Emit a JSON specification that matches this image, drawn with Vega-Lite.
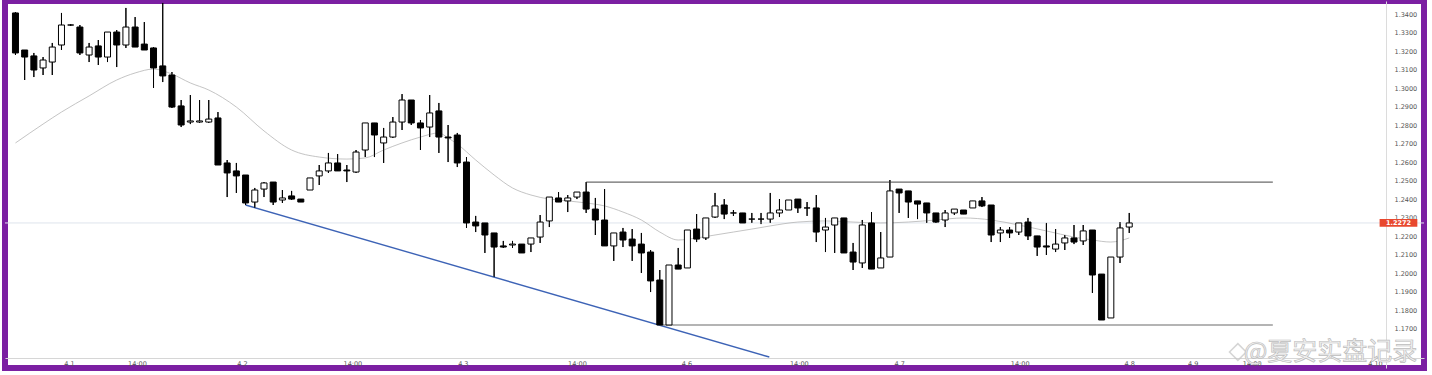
{
"$schema": "https://vega.github.io/schema/vega-lite/v6.json",
"width": 1419, "height": 367, "autosize": "none",
"padding": {"left": 5, "top": 1, "right": 8, "bottom": 7},
"background": "#ffffff",
"config": {"view": {"stroke": "#7b1fa2", "strokeWidth": 6}, "font": "DejaVu Sans", "axis": {"labelOverlap": false}},
"datasets": {
"candles": [
{"i":0,"o":1.3406,"h":1.3411,"l":1.3179,"c":1.3190},
{"i":1,"o":1.3206,"h":1.3206,"l":1.3044,"c":1.3168},
{"i":2,"o":1.3174,"h":1.3190,"l":1.3060,"c":1.3098},
{"i":3,"o":1.3109,"h":1.3168,"l":1.3071,"c":1.3152},
{"i":4,"o":1.3141,"h":1.3244,"l":1.3071,"c":1.3222},
{"i":5,"o":1.3233,"h":1.3406,"l":1.3206,"c":1.3341},
{"i":6,"o":1.3341,"h":1.3346,"l":1.3336,"c":1.3341},
{"i":7,"o":1.3330,"h":1.3341,"l":1.3179,"c":1.3190},
{"i":8,"o":1.3179,"h":1.3244,"l":1.3141,"c":1.3222},
{"i":9,"o":1.3228,"h":1.3260,"l":1.3125,"c":1.3168},
{"i":10,"o":1.3168,"h":1.3303,"l":1.3141,"c":1.3303},
{"i":11,"o":1.3303,"h":1.3314,"l":1.3114,"c":1.3233},
{"i":12,"o":1.3233,"h":1.3433,"l":1.3217,"c":1.3330},
{"i":13,"o":1.3330,"h":1.3384,"l":1.3222,"c":1.3222},
{"i":14,"o":1.3238,"h":1.3357,"l":1.3206,"c":1.3206},
{"i":15,"o":1.3217,"h":1.3222,"l":1.3001,"c":1.3109},
{"i":16,"o":1.3120,"h":1.3460,"l":1.3033,"c":1.3066},
{"i":17,"o":1.3071,"h":1.3087,"l":1.2893,"c":1.2898},
{"i":18,"o":1.2904,"h":1.2936,"l":1.2790,"c":1.2801},
{"i":19,"o":1.2817,"h":1.2963,"l":1.2806,"c":1.2823},
{"i":20,"o":1.2817,"h":1.2936,"l":1.2812,"c":1.2823},
{"i":21,"o":1.2817,"h":1.2936,"l":1.2812,"c":1.2833},
{"i":22,"o":1.2839,"h":1.2871,"l":1.2585,"c":1.2585},
{"i":23,"o":1.2596,"h":1.2612,"l":1.2412,"c":1.2542},
{"i":24,"o":1.2553,"h":1.2596,"l":1.2434,"c":1.2526},
{"i":25,"o":1.2531,"h":1.2531,"l":1.2369,"c":1.2380},
{"i":26,"o":1.2385,"h":1.2461,"l":1.2353,"c":1.2450},
{"i":27,"o":1.2455,"h":1.2493,"l":1.2412,"c":1.2488},
{"i":28,"o":1.2493,"h":1.2493,"l":1.2369,"c":1.2385},
{"i":29,"o":1.2396,"h":1.2450,"l":1.2380,"c":1.2407},
{"i":30,"o":1.2418,"h":1.2445,"l":1.2396,"c":1.2401},
{"i":31,"o":1.2401,"h":1.2401,"l":1.2385,"c":1.2385},
{"i":32,"o":1.2450,"h":1.2515,"l":1.2450,"c":1.2515},
{"i":33,"o":1.2526,"h":1.2585,"l":1.2477,"c":1.2553},
{"i":34,"o":1.2553,"h":1.2650,"l":1.2542,"c":1.2596},
{"i":35,"o":1.2596,"h":1.2644,"l":1.2553,"c":1.2553},
{"i":36,"o":1.2558,"h":1.2585,"l":1.2493,"c":1.2553},
{"i":37,"o":1.2547,"h":1.2666,"l":1.2542,"c":1.2655},
{"i":38,"o":1.2666,"h":1.2812,"l":1.2628,"c":1.2812},
{"i":39,"o":1.2812,"h":1.2812,"l":1.2628,"c":1.2747},
{"i":40,"o":1.2704,"h":1.2785,"l":1.2596,"c":1.2736},
{"i":41,"o":1.2736,"h":1.2844,"l":1.2731,"c":1.2817},
{"i":42,"o":1.2817,"h":1.2968,"l":1.2774,"c":1.2936},
{"i":43,"o":1.2936,"h":1.2936,"l":1.2801,"c":1.2812},
{"i":44,"o":1.2812,"h":1.2828,"l":1.2666,"c":1.2785},
{"i":45,"o":1.2790,"h":1.2963,"l":1.2736,"c":1.2866},
{"i":46,"o":1.2877,"h":1.2920,"l":1.2650,"c":1.2736},
{"i":47,"o":1.2736,"h":1.2801,"l":1.2601,"c":1.2731},
{"i":48,"o":1.2747,"h":1.2758,"l":1.2574,"c":1.2596},
{"i":49,"o":1.2601,"h":1.2628,"l":1.2245,"c":1.2272},
{"i":50,"o":1.2277,"h":1.2310,"l":1.2223,"c":1.2256},
{"i":51,"o":1.2272,"h":1.2272,"l":1.2110,"c":1.2207},
{"i":52,"o":1.2218,"h":1.2218,"l":1.1980,"c":1.2142},
{"i":53,"o":1.2148,"h":1.2175,"l":1.2137,"c":1.2142},
{"i":54,"o":1.2153,"h":1.2175,"l":1.2137,"c":1.2158},
{"i":55,"o":1.2158,"h":1.2158,"l":1.2110,"c":1.2110},
{"i":56,"o":1.2158,"h":1.2191,"l":1.2115,"c":1.2191},
{"i":57,"o":1.2196,"h":1.2315,"l":1.2164,"c":1.2277},
{"i":58,"o":1.2283,"h":1.2412,"l":1.2250,"c":1.2412},
{"i":59,"o":1.2407,"h":1.2439,"l":1.2385,"c":1.2385},
{"i":60,"o":1.2391,"h":1.2423,"l":1.2331,"c":1.2407},
{"i":61,"o":1.2412,"h":1.2439,"l":1.2401,"c":1.2439},
{"i":62,"o":1.2439,"h":1.2493,"l":1.2326,"c":1.2347},
{"i":63,"o":1.2347,"h":1.2407,"l":1.2207,"c":1.2288},
{"i":64,"o":1.2288,"h":1.2455,"l":1.2148,"c":1.2148},
{"i":65,"o":1.2148,"h":1.2218,"l":1.2067,"c":1.2218},
{"i":66,"o":1.2223,"h":1.2245,"l":1.2142,"c":1.2180},
{"i":67,"o":1.2185,"h":1.2239,"l":1.2067,"c":1.2148},
{"i":68,"o":1.2158,"h":1.2218,"l":1.2002,"c":1.2110},
{"i":69,"o":1.2115,"h":1.2126,"l":1.1899,"c":1.1959},
{"i":70,"o":1.1964,"h":1.2018,"l":1.1721,"c":1.1721},
{"i":71,"o":1.1721,"h":1.2045,"l":1.1721,"c":1.2045},
{"i":72,"o":1.2045,"h":1.2137,"l":1.2023,"c":1.2023},
{"i":73,"o":1.2029,"h":1.2234,"l":1.2029,"c":1.2234},
{"i":74,"o":1.2239,"h":1.2320,"l":1.2169,"c":1.2185},
{"i":75,"o":1.2191,"h":1.2299,"l":1.2180,"c":1.2299},
{"i":76,"o":1.2304,"h":1.2434,"l":1.2299,"c":1.2364},
{"i":77,"o":1.2369,"h":1.2401,"l":1.2293,"c":1.2320},
{"i":78,"o":1.2326,"h":1.2342,"l":1.2310,"c":1.2326},
{"i":79,"o":1.2326,"h":1.2326,"l":1.2272,"c":1.2272},
{"i":80,"o":1.2293,"h":1.2326,"l":1.2272,"c":1.2293},
{"i":81,"o":1.2293,"h":1.2326,"l":1.2266,"c":1.2293},
{"i":82,"o":1.2293,"h":1.2434,"l":1.2272,"c":1.2326},
{"i":83,"o":1.2326,"h":1.2401,"l":1.2304,"c":1.2342},
{"i":84,"o":1.2342,"h":1.2396,"l":1.2342,"c":1.2396},
{"i":85,"o":1.2401,"h":1.2401,"l":1.2326,"c":1.2353},
{"i":86,"o":1.2353,"h":1.2385,"l":1.2310,"c":1.2353},
{"i":87,"o":1.2353,"h":1.2423,"l":1.2169,"c":1.2223},
{"i":88,"o":1.2234,"h":1.2299,"l":1.2115,"c":1.2250},
{"i":89,"o":1.2261,"h":1.2299,"l":1.2110,"c":1.2299},
{"i":90,"o":1.2299,"h":1.2299,"l":1.2110,"c":1.2110},
{"i":91,"o":1.2115,"h":1.2164,"l":1.2018,"c":1.2061},
{"i":92,"o":1.2056,"h":1.2288,"l":1.2029,"c":1.2261},
{"i":93,"o":1.2272,"h":1.2331,"l":1.2023,"c":1.2023},
{"i":94,"o":1.2029,"h":1.2223,"l":1.2029,"c":1.2083},
{"i":95,"o":1.2088,"h":1.2504,"l":1.2088,"c":1.2445},
{"i":96,"o":1.2455,"h":1.2455,"l":1.2326,"c":1.2434},
{"i":97,"o":1.2445,"h":1.2445,"l":1.2299,"c":1.2385},
{"i":98,"o":1.2391,"h":1.2391,"l":1.2293,"c":1.2374},
{"i":99,"o":1.2380,"h":1.2380,"l":1.2272,"c":1.2326},
{"i":100,"o":1.2326,"h":1.2326,"l":1.2272,"c":1.2277},
{"i":101,"o":1.2288,"h":1.2342,"l":1.2250,"c":1.2326},
{"i":102,"o":1.2326,"h":1.2347,"l":1.2315,"c":1.2347},
{"i":103,"o":1.2342,"h":1.2342,"l":1.2320,"c":1.2320},
{"i":104,"o":1.2353,"h":1.2391,"l":1.2353,"c":1.2391},
{"i":105,"o":1.2391,"h":1.2412,"l":1.2358,"c":1.2364},
{"i":106,"o":1.2369,"h":1.2369,"l":1.2169,"c":1.2207},
{"i":107,"o":1.2218,"h":1.2250,"l":1.2169,"c":1.2234},
{"i":108,"o":1.2234,"h":1.2250,"l":1.2191,"c":1.2218},
{"i":109,"o":1.2223,"h":1.2272,"l":1.2207,"c":1.2272},
{"i":110,"o":1.2277,"h":1.2299,"l":1.2180,"c":1.2202},
{"i":111,"o":1.2202,"h":1.2202,"l":1.2094,"c":1.2142},
{"i":112,"o":1.2148,"h":1.2272,"l":1.2099,"c":1.2142},
{"i":113,"o":1.2131,"h":1.2239,"l":1.2115,"c":1.2158},
{"i":114,"o":1.2164,"h":1.2207,"l":1.2126,"c":1.2191},
{"i":115,"o":1.2191,"h":1.2261,"l":1.2158,"c":1.2169},
{"i":116,"o":1.2175,"h":1.2261,"l":1.2153,"c":1.2229},
{"i":117,"o":1.2234,"h":1.2234,"l":1.1894,"c":1.1991},
{"i":118,"o":1.1996,"h":1.1996,"l":1.1748,"c":1.1748},
{"i":119,"o":1.1759,"h":1.2088,"l":1.1759,"c":1.2088},
{"i":120,"o":1.2088,"h":1.2277,"l":1.2056,"c":1.2245},
{"i":121,"o":1.2250,"h":1.2326,"l":1.2218,"c":1.2272}
],
"ma": [
{"i":0,"p":1.2704},{"i":3,"p":1.2806},{"i":5,"p":1.2871},{"i":8,"p":1.2958},{"i":11,"p":1.3044},
{"i":13,"p":1.3082},{"i":15,"p":1.3103},{"i":17,"p":1.3076},{"i":19,"p":1.3028},{"i":21,"p":1.2990},
{"i":24,"p":1.2898},{"i":27,"p":1.2769},{"i":30,"p":1.2666},{"i":33,"p":1.2628},{"i":36,"p":1.2617},
{"i":38,"p":1.2623},{"i":40,"p":1.2666},{"i":42,"p":1.2704},{"i":44,"p":1.2736},{"i":46,"p":1.2758},
{"i":47,"p":1.2731},{"i":48,"p":1.2698},{"i":50,"p":1.2612},{"i":52,"p":1.2531},{"i":54,"p":1.2461},
{"i":56,"p":1.2423},{"i":58,"p":1.2401},{"i":60,"p":1.2391},{"i":62,"p":1.2380},{"i":64,"p":1.2364},
{"i":66,"p":1.2331},{"i":68,"p":1.2288},{"i":70,"p":1.2223},{"i":72,"p":1.2180},{"i":74,"p":1.2191},
{"i":76,"p":1.2207},{"i":78,"p":1.2223},{"i":80,"p":1.2239},{"i":82,"p":1.2256},{"i":85,"p":1.2277},
{"i":88,"p":1.2283},{"i":91,"p":1.2277},{"i":94,"p":1.2272},{"i":97,"p":1.2277},{"i":100,"p":1.2288},
{"i":103,"p":1.2299},{"i":106,"p":1.2288},{"i":109,"p":1.2261},{"i":112,"p":1.2229},{"i":115,"p":1.2196},
{"i":117,"p":1.2180},{"i":119,"p":1.2169},{"i":121,"p":1.2191}
],
"levels": [
{"x1":62,"x2":136.6,"p":1.2493},
{"x1":70,"x2":136.6,"p":1.1721}
],
"trend": [
{"x1":25,"p1":1.2369,"x2":81.9,"p2":1.1548}
],
"last": [{"i":121,"c":1.2272}],
"one": [{}]
},
"layer": [
{
"data": {"name": "candles"},
"mark": {"type": "rule", "color": "#000000", "strokeWidth": 1},
"encoding": {
"x": {"field": "i", "type": "quantitative",
"scale": {"domain": [-0.593, 152.48], "nice": false, "zero": false},
"axis": {"orient": "bottom", "offset": -10, "title": null, "grid": false, "ticks": false,
"domainColor": "#d6d6d6", "labelFontSize": 6.5, "labelColor": "#555555", "labelPadding": 2,
"labelOverlap": false, "labelFlush": false, "tickCount": 40,
"values": [5.8, 13.2, 24.6, 36.6, 48.6, 61, 72.9, 85.1, 96, 109.1, 121, 127.9, 134.3, 147.7],
"labelExpr": "['4.1','14:00','4.2','14:00','4.3','14:00','4.6','14:00','4.7','14:00','4.8','4.9','14:00','4.10'][indexof([5.8,13.2,24.6,36.6,48.6,61,72.9,85.1,96,109.1,121,127.9,134.3,147.7], datum.value)]"}},
"y": {"field": "l", "type": "quantitative",
"scale": {"domain": [1.14888, 1.34706], "nice": false, "zero": false},
"axis": {"orient": "right", "offset": -38, "title": null, "grid": false, "ticks": false,
"domainColor": "#dcdcdc", "labelFontSize": 6.5, "labelColor": "#555555", "labelPadding": 8,
"format": ".4f", "labelOverlap": false, "tickCount": 40,
"values": [1.17,1.18,1.19,1.20,1.21,1.22,1.23,1.24,1.25,1.26,1.27,1.28,1.29,1.30,1.31,1.32,1.33,1.34]}},
"y2": {"field": "h"}
}
},
{
"data": {"name": "last"},
"mark": {"type": "rule", "color": "#dfe4ec", "strokeWidth": 1},
"encoding": {"y": {"field": "c", "type": "quantitative"}}
},
{
"data": {"name": "ma"},
"mark": {"type": "line", "color": "#b5b5b5", "strokeWidth": 0.8, "interpolate": "monotone"},
"encoding": {
"x": {"field": "i", "type": "quantitative"},
"y": {"field": "p", "type": "quantitative"}
}
},
{
"data": {"name": "trend"},
"mark": {"type": "rule", "color": "#3d63b6", "strokeWidth": 1.4},
"encoding": {
"x": {"field": "x1", "type": "quantitative"},
"x2": {"field": "x2"},
"y": {"field": "p1", "type": "quantitative"},
"y2": {"field": "p2"}
}
},
{
"data": {"name": "levels"},
"mark": {"type": "rule", "color": "#6b6b6b", "strokeWidth": 1.2},
"encoding": {
"x": {"field": "x1", "type": "quantitative"},
"x2": {"field": "x2"},
"y": {"field": "p", "type": "quantitative"}
}
},
{
"data": {"name": "candles"},
"mark": {"type": "rule", "color": "#000000", "strokeWidth": 1},
"encoding": {
"x": {"field": "i", "type": "quantitative"},
"y": {"field": "l", "type": "quantitative"},
"y2": {"field": "h"}
}
},
{
"data": {"name": "candles"},
"mark": {"type": "bar", "width": 6, "stroke": "#000000", "strokeWidth": 1},
"encoding": {
"x": {"field": "i", "type": "quantitative"},
"y": {"field": "o", "type": "quantitative"},
"y2": {"field": "c"},
"fill": {"condition": {"test": "datum.c < datum.o", "value": "#000000"}, "value": "#ffffff"}
}
},
{
"data": {"name": "one"},
"mark": {"type": "rect", "color": "#e8482e"},
"encoding": {
"x": {"datum": 148.2, "type": "quantitative"},
"x2": {"datum": 152.3},
"y": {"datum": 1.2293, "type": "quantitative"},
"y2": {"datum": 1.2251}
}
},
{
"data": {"name": "last"},
"mark": {"type": "text", "color": "#ffffff", "fontSize": 6.5, "fontWeight": "bold", "align": "center", "baseline": "middle"},
"encoding": {
"x": {"datum": 150.25, "type": "quantitative"},
"y": {"field": "c", "type": "quantitative"},
"text": {"field": "c", "type": "quantitative", "format": ".4f"}
}
},
{
"data": {"name": "one"},
"mark": {"type": "point", "shape": "diamond", "filled": false, "stroke": "#c4c4c4", "strokeWidth": 1.5, "size": 280},
"encoding": {
"x": {"datum": 132.8, "type": "quantitative"},
"y": {"datum": 1.1575, "type": "quantitative"}
}
},
{
"data": {"name": "one"},
"mark": {"type": "text", "text": "@夏安实盘记录", "font": "Noto Sans CJK SC", "fontSize": 25, "align": "right", "baseline": "middle", "fill": "#f2f2f2", "stroke": "#bdbdbd", "strokeWidth": 0.7},
"encoding": {
"x": {"datum": 152.3, "type": "quantitative"},
"y": {"datum": 1.1575, "type": "quantitative"}
}
}
]
}
